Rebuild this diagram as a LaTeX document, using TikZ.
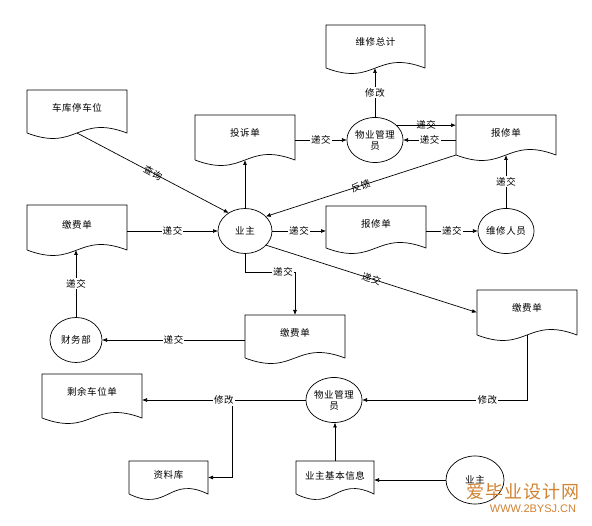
\documentclass[tikz,border=0pt]{standalone}
\usepackage{fontspec}
\setmainfont{Noto Sans CJK SC}[LetterSpace=6]
\newfontfamily\wmfont{Liberation Sans}
\usetikzlibrary{shapes.geometric,arrows.meta,calc}
\definecolor{wmcol}{RGB}{210,130,50}
\newcommand\docbox[7]{% name, cx, top, w, h, text, text offset
  \node[docshape, minimum width=#4, minimum height=#5, anchor=north] (#1) at (#2,#3) {};
  \draw[docline] (#1.south west) -- (#1.north west) -- (#1.north east) -- (#1.south east)
    .. controls +({-0.5*#4},-19) and +({0.5*#4},19) .. (#1.south west);
  \node[txt] (#1t) at ([yshift=-#7pt]#1.north) {#6};
}
\begin{document}
\begin{tikzpicture}[x=1pt,y=-1pt,
  font=\fontsize{9.5}{11}\selectfont,
  proc/.style={ellipse, draw, line width=0.7pt, minimum width=54pt, minimum height=45pt,
    inner sep=0pt, outer sep=0pt, align=center},
  docshape/.style={rectangle, draw=none, inner sep=0pt, outer sep=0pt},
  docline/.style={line width=0.7pt},
  txt/.style={inner sep=0pt},
  arr/.style={draw, line width=0.7pt, -{Latex[length=5pt,width=4pt]}},
  lbl/.style={fill=white, inner sep=1.2pt},
  slbl/.style={sloped, inner sep=1pt}]
\useasboundingbox (0,0) rectangle (592,526);

% documents
\docbox{V}{375.5}{25}{99}{43}{维修总计}{17}
\docbox{K}{77}{90}{100}{43}{车库停车位}{18}
\docbox{T}{245}{115}{100}{45}{投诉单}{18}
\docbox{R1}{506}{115}{100}{40}{报修单}{18}
\docbox{C1}{77}{205}{100}{45}{缴费单}{20}
\docbox{B2}{376}{206}{100}{42}{报修单}{18}
\docbox{C2}{295}{315}{100}{43}{缴费单}{18}
\docbox{R3}{527}{290}{100}{45}{缴费单}{18}
\docbox{S}{92}{374}{100}{44}{剩余车位单}{18}
\docbox{Z}{168.5}{461}{79}{33}{资料库}{14}
\docbox{J}{335}{461}{78}{33}{业主基本信息}{15}

% processes
\node[proc] (wp) at (375,140) {物业管理\\员};
\node[proc] (yz) at (245,231) {业主};
\node[proc] (wx) at (506,231) {维修人员};
\node[proc, minimum width=52pt] (cw) at (76,340) {财务部};
\node[proc, minimum width=56pt] (wp2) at (334,400) {物业管理\\员};
\node[proc, minimum width=58pt, minimum height=48pt] (yz2) at (475,480) {业主};

% connectors
\draw[arr] (wp.north) -- node[lbl]{修改} (wp.north |- V.south);
\draw[arr] (T.east |- wp.west) -- node[lbl]{递交} (wp.west);
\draw[arr] (wp.35) -- node[txt]{递交} (wp.35 -| R1.west);
\draw[arr] (wp.east -| R1.west) -- node[lbl]{递交} (wp.east);
\draw[arr] (wx.north) -- node[lbl]{递交} (wx.north |- R1.south);
\draw[arr] (R1.south west) -- node[slbl]{反馈} (yz.35);
\draw[arr] (K.south) -- node[slbl]{查询} (yz.132);
\draw[arr] (yz.north) -- (yz.north |- T.south);
\draw[arr] (C1.east |- yz.west) -- node[lbl]{递交} (yz.west);
\draw[arr] (yz.east) -- node[lbl]{递交} (yz.east -| B2.west);
\draw[arr] (B2.east |- wx.west) -- node[lbl]{递交} (wx.west);
\draw[arr] (yz.-34) -- node[slbl]{递交} (R3.west);
\coordinate (k1) at (295,272);
\draw[arr] (yz.south) |- node[lbl,pos=0.88]{递交} (k1) -- (C2.north);
\draw[arr] (C2.west |- cw.east) -- node[lbl]{递交} (cw.east);
\draw[arr] (cw.north) -- node[lbl]{递交} (cw.north |- C1.south);
\draw[arr] (R3.south) |- node[lbl,pos=0.62]{修改} (wp2.east);
\coordinate (br) at (232,400);
\draw[arr] (br) |- (Z.east);
\draw[arr] (wp2.west) -- node[lbl]{修改} (wp2.west -| S.east);
\draw[arr] (J.north) -- (J.north |- wp2.south);
\draw[arr] (yz2.west) -- (yz2.west -| J.east);

% watermark
\node[text=wmcol, font=\fontsize{18}{18}\selectfont, inner sep=0pt] (wm1) at (523,492) {爱毕业设计网};
\node[text=wmcol, font=\wmfont\fontsize{11}{11}\selectfont, inner sep=0pt] (wm2) at (533,509) {WWW.2BYSJ.CN};
\end{tikzpicture}
\end{document}
